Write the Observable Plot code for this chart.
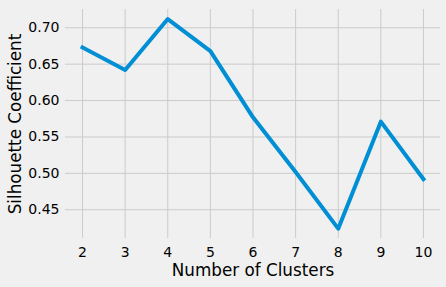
<!DOCTYPE html>
<html>
<head>
<meta charset="utf-8">
<script src="https://cdn.jsdelivr.net/npm/d3@7"></script>
<script src="https://cdn.jsdelivr.net/npm/@observablehq/plot@0.6"></script>
<style>
  html, body { margin: 0; padding: 0; background: #f0f0f0; }
  #chart { width: 446px; height: 287px; }
</style>
</head>
<body>
<div id="chart"></div>
<script>
const clusters = [2, 3, 4, 5, 6, 7, 8, 9, 10];
const silhouette = [0.673, 0.642, 0.712, 0.668, 0.577, 0.502, 0.424, 0.571, 0.492];
const xTicks = [2, 3, 4, 5, 6, 7, 8, 9, 10];
const yTicks = [0.45, 0.50, 0.55, 0.60, 0.65, 0.70];

const data = clusters.map((c, i) => ({k: c, s: silhouette[i]}));

const chart = Plot.plot({
  width: 446,
  height: 287,
  marginLeft: 65,
  marginRight: 6,
  marginTop: 9,
  marginBottom: 49,
  style: {background: "#f0f0f0", fontFamily: "DejaVu Sans", fontSize: "14px", color: "#000"},
  x: {domain: [1.6, 10.4], axis: null},
  y: {domain: [0.4105, 0.7251], axis: null},
  marks: [
    Plot.ruleX(xTicks, {stroke: "#cbcbcb", strokeWidth: 1}),
    Plot.ruleY(yTicks, {stroke: "#cbcbcb", strokeWidth: 1}),
    Plot.axisX(xTicks, {tickSize: 0, tickPadding: 9, fontSize: 14, fill: "#000", label: null}),
    Plot.axisY(yTicks, {tickSize: 0, tickPadding: 6, fontSize: 14, fill: "#000", label: null, tickFormat: d3.format(".2f")}),
    Plot.line(data, {x: "k", y: "s", stroke: "#008fd5", strokeWidth: 4, strokeLinejoin: "round", strokeLinecap: "square"}),
    Plot.text(["Number of Clusters"], {frameAnchor: "bottom", lineAnchor: "middle", textAnchor: "middle", dy: 32, fontSize: 16.8, fill: "#000"}),
    Plot.text(["Silhouette Coefficient"], {frameAnchor: "left", lineAnchor: "middle", textAnchor: "middle", dx: -50, rotate: -90, fontSize: 16.8, fill: "#000"})
  ]
});
document.getElementById("chart").appendChild(chart);
</script>
</body>
</html>
